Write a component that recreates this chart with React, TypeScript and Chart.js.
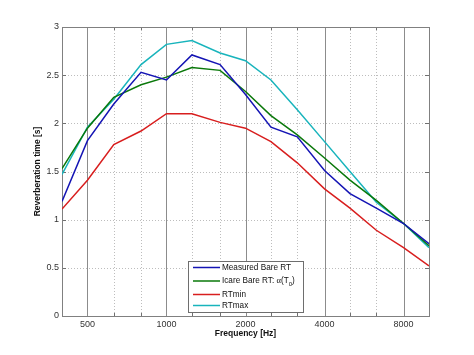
import React, { useEffect, useRef } from 'react';
import { Chart, registerables } from 'chart.js';
Chart.register(...registerables);

const freqs = [400, 500, 630, 800, 1000, 1250, 1600, 2000, 2500, 3150, 4000, 5000, 6300, 8000, 10000];
const measured = [1.19, 1.82, 2.2, 2.53, 2.45, 2.71, 2.61, 2.3, 1.96, 1.86, 1.51, 1.27, 1.12, 0.96, 0.75];
const icare = [1.53, 1.95, 2.27, 2.4, 2.48, 2.58, 2.55, 2.33, 2.08, 1.88, 1.64, 1.41, 1.2, 0.96, 0.73];
const rtMin = [1.11, 1.41, 1.78, 1.92, 2.1, 2.1, 2.01, 1.95, 1.81, 1.59, 1.32, 1.12, 0.89, 0.71, 0.52];
const rtMax = [1.47, 1.96, 2.25, 2.61, 2.82, 2.86, 2.73, 2.65, 2.45, 2.14, 1.81, 1.5, 1.18, 0.96, 0.71];
const majorTicks = [500, 1000, 2000, 4000, 8000];
const minorGrid = [630, 800, 1250, 1600, 2500, 3150, 5000, 6300];
const yTicks = [0, 0.5, 1, 1.5, 2, 2.5, 3];

const COLORS = { measured: '#1414b4', icare: '#0a780a', min: '#d81e1e', max: '#18b4bc' };
const FONT = 'Liberation Sans, Arial, sans-serif';

const gridPlugin = {
  id: 'matlabGrid',
  beforeDatasetsDraw(chart: any) {
    const { ctx, chartArea: a, scales } = chart;
    const xs = scales.x, ys = scales.y;
    ctx.save();
    ctx.lineWidth = 1;
    ctx.strokeStyle = '#bdbdbd';
    ctx.setLineDash([1, 2]);
    yTicks.forEach((v) => {
      if (v <= 0 || v >= 3) return;
      const y = Math.round(ys.getPixelForValue(v)) + 0.5;
      ctx.beginPath(); ctx.moveTo(a.left, y); ctx.lineTo(a.right, y); ctx.stroke();
    });
    minorGrid.forEach((f) => {
      const x = Math.round(xs.getPixelForValue(f)) + 0.5;
      ctx.beginPath(); ctx.moveTo(x, a.top); ctx.lineTo(x, a.bottom); ctx.stroke();
    });
    ctx.setLineDash([]);
    ctx.strokeStyle = '#8c8c8c';
    majorTicks.forEach((f) => {
      const x = Math.round(xs.getPixelForValue(f)) + 0.5;
      ctx.beginPath(); ctx.moveTo(x, a.top); ctx.lineTo(x, a.bottom); ctx.stroke();
    });
    ctx.strokeStyle = '#707070';
    minorGrid.forEach((f) => {
      const x = Math.round(xs.getPixelForValue(f)) + 0.5;
      ctx.beginPath(); ctx.moveTo(x, a.bottom); ctx.lineTo(x, a.bottom - 3); ctx.stroke();
      ctx.beginPath(); ctx.moveTo(x, a.top); ctx.lineTo(x, a.top + 3); ctx.stroke();
    });
    yTicks.forEach((v) => {
      const y = Math.round(ys.getPixelForValue(v)) + 0.5;
      ctx.beginPath(); ctx.moveTo(a.left, y); ctx.lineTo(a.left + 4, y); ctx.stroke();
      ctx.beginPath(); ctx.moveTo(a.right, y); ctx.lineTo(a.right - 4, y); ctx.stroke();
    });
    ctx.strokeStyle = '#808080';
    ctx.strokeRect(Math.round(a.left) + 0.5, Math.round(a.top) + 0.5, Math.round(a.right - a.left), Math.round(a.bottom - a.top));
    ctx.restore();
  },
  afterDraw(chart: any) {
    const { ctx } = chart;
    const bx = 188, by = 261, bw = 115, bh = 51;
    ctx.save();
    ctx.fillStyle = '#ffffff';
    ctx.fillRect(bx, by, bw, bh);
    ctx.strokeStyle = '#6e6e6e';
    ctx.lineWidth = 1;
    ctx.strokeRect(bx + 0.5, by + 0.5, bw, bh);
    const rows = [
      { y: 267.5, color: COLORS.measured },
      { y: 281, color: COLORS.icare },
      { y: 294.5, color: COLORS.min },
      { y: 305.5, color: COLORS.max },
    ];
    ctx.lineWidth = 1.5;
    rows.forEach((r) => {
      ctx.strokeStyle = r.color;
      ctx.beginPath(); ctx.moveTo(193, r.y); ctx.lineTo(220, r.y); ctx.stroke();
    });
    ctx.fillStyle = '#111';
    ctx.textBaseline = 'middle';
    ctx.textAlign = 'left';
    ctx.font = `8.2px ${FONT}`;
    ctx.fillText('Measured Bare RT', 222, rows[0].y);
    let x = 222;
    const t1 = 'Icare Bare RT: ';
    ctx.fillText(t1, x, rows[1].y); x += ctx.measureText(t1).width;
    ctx.font = `8.5px 'Liberation Serif', serif`;
    ctx.fillText('\u03b1', x, rows[1].y); x += ctx.measureText('\u03b1').width;
    ctx.font = `8.2px ${FONT}`;
    ctx.fillText('(T', x, rows[1].y); x += ctx.measureText('(T').width;
    ctx.font = `6px ${FONT}`;
    ctx.fillText('0', x, rows[1].y + 3); x += ctx.measureText('0').width;
    ctx.font = `8.2px ${FONT}`;
    ctx.fillText(')', x, rows[1].y);
    ctx.fillText('RTmin', 222, rows[2].y);
    ctx.fillText('RTmax', 222, rows[3].y);
    ctx.restore();
  },
};

export default function App() {
  const ref = useRef<HTMLCanvasElement>(null);
  useEffect(() => {
    if (!ref.current) return;
    const mk = (label: string, data: number[], color: string) => ({
      label,
      data: freqs.map((f, i) => ({ x: f, y: data[i] })),
      borderColor: color,
      backgroundColor: color,
      borderWidth: 1.5,
      pointRadius: 0,
      tension: 0,
      fill: false,
    });
    const chart = new Chart(ref.current, {
      type: 'line',
      data: {
        datasets: [
          mk('Measured Bare RT', measured, COLORS.measured),
          mk('Icare Bare RT: \u03b1(T0)', icare, COLORS.icare),
          mk('RTmin', rtMin, COLORS.min),
          mk('RTmax', rtMax, COLORS.max),
        ],
      },
      options: {
        animation: false,
        responsive: true,
        maintainAspectRatio: false,
        layout: { padding: { top: 27, right: 45, left: 0, bottom: 0 } },
        plugins: { legend: { display: false }, tooltip: { enabled: false } },
        scales: {
          x: {
            type: 'logarithmic',
            min: 400,
            max: 10000,
            grid: { display: false, drawTicks: false },
            border: { display: false },
            afterBuildTicks: (s: any) => { s.ticks = majorTicks.map((v) => ({ value: v })); },
            afterFit: (s: any) => { s.height = 39; },
            ticks: {
              autoSkip: false,
              maxRotation: 0,
              padding: 3,
              color: '#333',
              font: { family: FONT, size: 9 },
              callback: (v: any) => String(v),
            },
            title: {
              display: true,
              text: 'Frequency [Hz]',
              color: '#111',
              font: { family: FONT, size: 8.5, weight: 'bold' },
              padding: { top: 0, bottom: 16 },
            },
          },
          y: {
            min: 0,
            max: 3,
            grid: { display: false, drawTicks: false },
            border: { display: false },
            afterBuildTicks: (s: any) => { s.ticks = yTicks.map((v) => ({ value: v })); },
            afterFit: (s: any) => { s.width = 62; },
            ticks: {
              padding: 3,
              color: '#333',
              font: { family: FONT, size: 9 },
              callback: (v: any) => String(v),
            },
            title: {
              display: true,
              text: 'Reverberation time [s]',
              color: '#111',
              font: { family: FONT, size: 8.5, weight: 'bold' },
              padding: { top: 33, bottom: 0 },
            },
          },
        },
      },
      plugins: [gridPlugin],
    } as any);
    return () => chart.destroy();
  }, []);
  return (
    <div style={{ position: 'fixed', left: 0, top: 0, width: 474, height: 355, background: '#fff' }}>
      <canvas ref={ref} />
    </div>
  );
}
